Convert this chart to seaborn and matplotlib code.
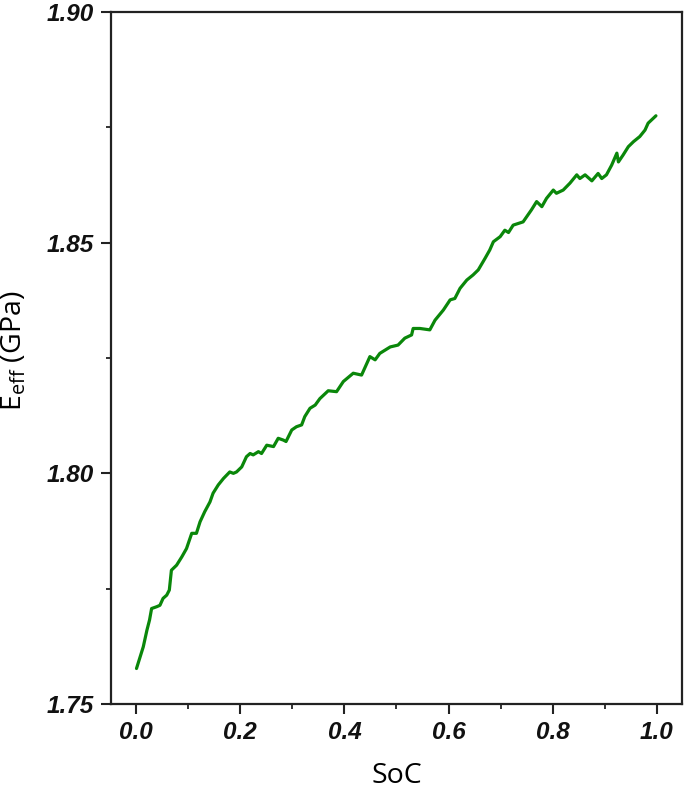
import numpy as np
import pandas as pd
import matplotlib
matplotlib.use("Agg")
import matplotlib.pyplot as plt
import seaborn as sns
from matplotlib.ticker import MultipleLocator, FormatStrFormatter

soc = [0.001, 0.014, 0.021, 0.026, 0.030, 0.040, 0.046, 0.052, 0.059, 0.064,
       0.068, 0.078, 0.088, 0.097, 0.107, 0.116, 0.123, 0.132, 0.142, 0.148,
       0.158, 0.168, 0.180, 0.187, 0.193, 0.203, 0.212, 0.219, 0.225, 0.235,
       0.241, 0.251, 0.264, 0.273, 0.283, 0.288, 0.299, 0.308, 0.318, 0.324,
       0.334, 0.344, 0.353, 0.369, 0.385, 0.398, 0.417, 0.433, 0.449, 0.459,
       0.468, 0.488, 0.503, 0.516, 0.529, 0.532, 0.545, 0.564, 0.574, 0.590,
       0.603, 0.612, 0.622, 0.635, 0.647, 0.657, 0.670, 0.679, 0.686, 0.699,
       0.708, 0.715, 0.724, 0.743, 0.759, 0.769, 0.779, 0.788, 0.801, 0.807,
       0.820, 0.833, 0.846, 0.852, 0.862, 0.875, 0.887, 0.894, 0.903, 0.913,
       0.923, 0.926, 0.935, 0.945, 0.955, 0.967, 0.977, 0.983, 0.998]
e_eff = [1.7577, 1.7624, 1.7660, 1.7682, 1.7707, 1.7711, 1.7714, 1.7729, 1.7736, 1.7747,
         1.7790, 1.7801, 1.7819, 1.7837, 1.7870, 1.7870, 1.7895, 1.7917, 1.7938, 1.7957,
         1.7975, 1.7989, 1.8003, 1.8000, 1.8003, 1.8014, 1.8036, 1.8043, 1.8040, 1.8047,
         1.8043, 1.8061, 1.8058, 1.8076, 1.8072, 1.8069, 1.8094, 1.8101, 1.8105, 1.8123,
         1.8141, 1.8148, 1.8162, 1.8179, 1.8177, 1.8199, 1.8217, 1.8213, 1.8253, 1.8246,
         1.8260, 1.8274, 1.8278, 1.8293, 1.8300, 1.8314, 1.8314, 1.8311, 1.8332, 1.8354,
         1.8376, 1.8379, 1.8401, 1.8419, 1.8430, 1.8441, 1.8466, 1.8484, 1.8502, 1.8513,
         1.8527, 1.8522, 1.8538, 1.8545, 1.8571, 1.8589, 1.8578, 1.8596, 1.8614, 1.8607,
         1.8614, 1.8629, 1.8647, 1.8639, 1.8647, 1.8634, 1.8650, 1.8639, 1.8647, 1.8668,
         1.8694, 1.8675, 1.8690, 1.8708, 1.8719, 1.8730, 1.8744, 1.8759, 1.8775]

x_ticks = [0.0, 0.2, 0.4, 0.6, 0.8, 1.0]
y_ticks = [1.75, 1.80, 1.85, 1.90]

sns.set_theme(style="ticks")
plt.rcParams['font.family'] = ['Open Sans', 'DejaVu Sans']
plt.rcParams['mathtext.fontset'] = 'custom'
plt.rcParams['mathtext.rm'] = 'Open Sans'

df = pd.DataFrame({"SoC": soc, "E": e_eff})

fig = plt.figure(figsize=(6.85, 7.93), dpi=100)
ax = fig.add_axes([0.162, 0.1122, 0.8336, 0.8727])
sns.lineplot(data=df, x="SoC", y="E", ax=ax, color="#0a870a", linewidth=2.3)

ax.set_xlim(-0.048, 1.048)
ax.set_ylim(1.75, 1.90)
ax.set_xticks(x_ticks)
ax.set_yticks(y_ticks)
ax.xaxis.set_minor_locator(MultipleLocator(0.1))
ax.yaxis.set_minor_locator(MultipleLocator(0.025))
ax.xaxis.set_major_formatter(FormatStrFormatter('%.1f'))
ax.yaxis.set_major_formatter(FormatStrFormatter('%.2f'))

for s in ax.spines.values():
    s.set_linewidth(1.6)
    s.set_color('#222222')
ax.tick_params(which='major', direction='out', length=7.2, width=1.5, color='#222222', pad=5)
ax.tick_params(which='minor', direction='out', length=3.6, width=1.3, color='#222222')
ax.tick_params(top=False, right=False, which='both')

for lab in ax.get_xticklabels() + ax.get_yticklabels():
    lab.set_fontfamily('Liberation Sans')
    lab.set_fontweight('bold')
    lab.set_fontstyle('italic')
    lab.set_fontsize(17.5)
    lab.set_color('#111111')

ax.set_xlabel('SoC', fontsize=20.5, color='black')
ax.set_ylabel(r'E$_{\mathrm{eff}}$ (GPa)', fontsize=20.5, color='black')
ax.xaxis.set_label_coords(0.5, -0.084)
ax.yaxis.set_label_coords(-0.145, 0.51)

fig.savefig('out.png', dpi=100)
